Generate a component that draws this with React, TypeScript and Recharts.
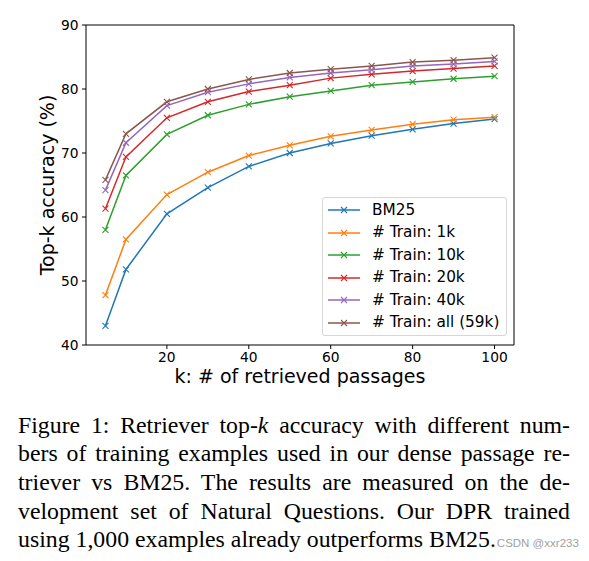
import { LineChart, Line, XAxis, YAxis, ReferenceLine } from 'recharts'

// k values on the x axis
const K_VALUES = [5, 10, 20, 30, 40, 50, 60, 70, 80, 90, 100]

// top-k accuracy (%)
const BM25 = [43.0, 51.8, 60.5, 64.6, 67.9, 70.0, 71.5, 72.7, 73.7, 74.6, 75.3]
const TRAIN_1K = [47.8, 56.5, 63.5, 67.0, 69.6, 71.2, 72.6, 73.6, 74.5, 75.2, 75.6]
const TRAIN_10K = [58.0, 66.5, 72.9, 75.9, 77.6, 78.8, 79.7, 80.6, 81.1, 81.6, 82.0]
const TRAIN_20K = [61.3, 69.4, 75.5, 78.0, 79.6, 80.6, 81.7, 82.3, 82.8, 83.2, 83.6]
const TRAIN_40K = [64.2, 71.6, 77.4, 79.5, 80.8, 81.8, 82.5, 83.0, 83.6, 83.9, 84.3]
const TRAIN_ALL = [65.8, 73.0, 78.0, 80.0, 81.5, 82.5, 83.1, 83.6, 84.2, 84.5, 84.9]

const X_TICKS = [20, 40, 60, 80, 100]
const Y_TICKS = [40, 50, 60, 70, 80, 90]

const SERIES = [
  { key: 'bm25', name: 'BM25', color: '#1f77b4', values: BM25 },
  { key: 'train1k', name: '# Train: 1k', color: '#ff7f0e', values: TRAIN_1K },
  { key: 'train10k', name: '# Train: 10k', color: '#2ca02c', values: TRAIN_10K },
  { key: 'train20k', name: '# Train: 20k', color: '#d62728', values: TRAIN_20K },
  { key: 'train40k', name: '# Train: 40k', color: '#9467bd', values: TRAIN_40K },
  { key: 'trainAll', name: '# Train: all (59k)', color: '#8c564b', values: TRAIN_ALL },
]

const CAPTION_LINES = [
  ['Figure 1: Retriever top-', 'k', ' accuracy with different num-'],
  ['bers of training examples used in our dense passage re-'],
  ['triever vs BM25.  The results are measured on the de-'],
  ['velopment set of Natural Questions.  Our DPR trained'],
]
const CAPTION_LAST = 'using 1,000 examples already outperforms BM25.'

const data = K_VALUES.map((k, i) => {
  const row: Record<string, number> = { k }
  SERIES.forEach(s => { row[s.key] = s.values[i] })
  return row
})

const FONT = '"DejaVu Sans", sans-serif'

function crossDot(color: string) {
  return (props: any) => {
    const { cx, cy, index } = props
    if (cx == null || cy == null) return <g key={`x-${color}-${index}`} />
    const s = 3
    return (
      <path
        key={`x-${color}-${index}`}
        d={`M${cx - s},${cy - s}L${cx + s},${cy + s}M${cx - s},${cy + s}L${cx + s},${cy - s}`}
        stroke={color}
        strokeWidth={1.1}
        fill="none"
      />
    )
  }
}

function LegendBox() {
  return (
    <div style={{
      position: 'absolute', left: 322, top: 197, width: 185, height: 139,
      border: '1px solid #d6d6d6', borderRadius: 3, background: '#fff',
      boxSizing: 'border-box', fontFamily: FONT, fontSize: 15.3, color: '#000',
    }}>
      {SERIES.map((s, i) => (
        <div key={s.key} style={{ position: 'absolute', left: 0, top: 1 + i * 22.5, height: 22, width: '100%' }}>
          <svg width={40} height={22} style={{ position: 'absolute', left: 4, top: 0 }}>
            <line x1={1} y1={11} x2={33} y2={11} stroke={s.color} strokeWidth={1.5} />
            <path d="M14,8L20,14M14,14L20,8" stroke={s.color} strokeWidth={1.1} fill="none" />
          </svg>
          <span style={{ position: 'absolute', left: 49, top: 1.5, whiteSpace: 'nowrap', lineHeight: '19px' }}>{s.name}</span>
        </div>
      ))}
    </div>
  )
}

export default function App() {
  return (
    <div style={{ position: 'absolute', left: 0, top: 0, width: 589, height: 561, background: '#fff', overflow: 'hidden' }}>
      <LineChart
        width={589}
        height={400}
        data={data}
        margin={{ top: 25, right: 75, bottom: 0, left: 0 }}
        style={{ fontFamily: FONT }}
      >
        <XAxis
          dataKey="k"
          type="number"
          domain={[0.25, 104.75]}
          ticks={X_TICKS}
          height={55}
          allowDataOverflow
          stroke="#000"
          tickSize={4}
          tickMargin={3}
          tick={{ fontSize: 13.8, fill: '#000' }}
          label={{
            content: (p: any) => {
              const vb = p.viewBox || {}
              return (
                <text x={vb.x + vb.width / 2} y={vb.y + 38} textAnchor="middle" fontSize={19} fill="#000" fontFamily={FONT}>
                  k: # of retrieved passages
                </text>
              )
            },
          }}
        />
        <YAxis
          type="number"
          domain={[40, 90]}
          ticks={Y_TICKS}
          width={86}
          stroke="#000"
          tickSize={4}
          tickMargin={3.5}
          tick={{ fontSize: 13.8, fill: '#000' }}
          label={{
            content: (p: any) => {
              const vb = p.viewBox || {}
              return (
                <text transform="rotate(-90)" x={-(vb.y + vb.height / 2)} y={54} textAnchor="middle" fontSize={19} fill="#000" fontFamily={FONT}>
                  Top-k accuracy (%)
                </text>
              )
            },
          }}
        />
        <ReferenceLine y={90} stroke="#000" strokeWidth={1} />
        <ReferenceLine x={104.75} stroke="#000" strokeWidth={1} />
        {SERIES.map(s => (
          <Line
            key={s.key}
            dataKey={s.key}
            name={s.name}
            type="linear"
            stroke={s.color}
            strokeWidth={1.5}
            dot={crossDot(s.color)}
            activeDot={false}
            isAnimationActive={false}
          />
        ))}
      </LineChart>
      <LegendBox />
      <div style={{
        position: 'absolute', left: 18, top: 410.5, width: 552,
        fontFamily: '"Liberation Serif", serif', fontSize: 23.8, lineHeight: '28.7px', color: '#000',
      }}>
        {CAPTION_LINES.map((parts, i) => (
          <div key={i} style={{ textAlign: 'justify', textAlignLast: 'justify', whiteSpace: 'nowrap' }}>
            {parts.map((t, j) => (t === 'k' ? <i key={j}>k</i> : <span key={j}>{t}</span>))}
          </div>
        ))}
        <div style={{ whiteSpace: 'nowrap' }}>
          {CAPTION_LAST}
          <span style={{ fontFamily: '"Liberation Sans", Arial, sans-serif', fontSize: 11.5, color: '#a0a0a0', marginLeft: 1 }}>CSDN @xxr233</span>
        </div>
      </div>
    </div>
  )
}
